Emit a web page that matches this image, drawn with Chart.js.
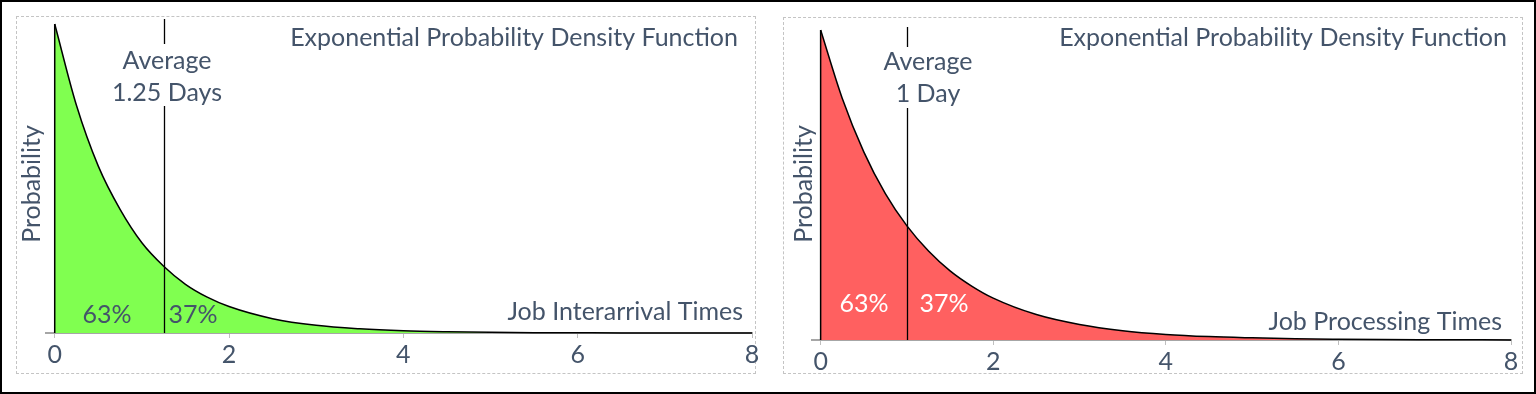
<!DOCTYPE html>
<html>
<head>
<meta charset="utf-8">
<script src="https://cdn.jsdelivr.net/npm/chart.js@4.4.1/dist/chart.umd.min.js"></script>
<style>
  html, body { margin: 0; padding: 0; background: #fff; }
  #frame { position: absolute; left: 0; top: 0; width: 1536px; height: 394px; box-sizing: border-box; border: 2px solid #000; }
  .panel { position: absolute; border: 1px dashed #c4c4c4; box-sizing: border-box; }
  .holder { position: absolute; top: 0; width: 768px; height: 394px; }
</style>
</head>
<body>
<div id="frame"></div>
<div class="panel" style="left:16px;top:16px;width:740px;height:358px;"></div>
<div class="panel" style="left:783px;top:17px;width:740px;height:357px;"></div>
<div class="holder" style="left:0"><canvas id="interarrival"></canvas></div>
<div class="holder" style="left:768px"><canvas id="processing"></canvas></div>
<script>
/* ── data ── */
const xValues = [0, 0.25, 0.5, 0.75, 1, 1.25, 1.5, 1.75, 2, 2.5, 3, 3.5, 4, 4.5, 5, 5.5, 6, 6.5, 7, 8];
// left curve (mean labelled 1.25 days)
const interarrivalDensity = [1.25, 0.92, 0.675, 0.5, 0.365, 0.27, 0.197, 0.145, 0.107, 0.058, 0.031, 0.017, 0.009, 0.005, 0.0027, 0.0014, 0.0008, 0.0004, 0.0002, 0.0001];
// right curve (mean 1 day)
const processingDensity = [1, 0.78, 0.607, 0.472, 0.368, 0.287, 0.223, 0.174, 0.135, 0.082, 0.05, 0.03, 0.018, 0.011, 0.007, 0.004, 0.0025, 0.0015, 0.001, 0.0003];
const xTicks = [0, 2, 4, 6, 8];
const means = [1.25, 1];
const meanLabels = [['Average', '1.25 Days'], ['Average', '1 Day']];
const shareLabels = ['63%', '37%'];
const titleText = 'Exponential Probability Density Function';
const axisTitles = ['Job Interarrival Times', 'Job Processing Times'];
const yTitle = 'Probability';

const TEXT = '#44546A';
const FONT = 'Lato, "Open Sans", sans-serif';

Chart.defaults.font.family = FONT;
Chart.defaults.color = TEXT;

function txt(ctx, s, x, y, align, color) {
  ctx.fillStyle = color || TEXT;
  ctx.textAlign = align || 'center';
  ctx.textBaseline = 'middle';
  ctx.fillText(s, x, y);
}

const decorPlugin = {
  id: 'decor',
  afterDatasetsDraw(chart, args, o) {
    const { ctx, chartArea, scales } = chart;
    const x = scales.x, y = scales.y;
    ctx.save();
    // left edge of the area
    ctx.strokeStyle = '#000';
    ctx.lineWidth = 1.5;
    const x0 = x.getPixelForValue(0);
    ctx.beginPath();
    ctx.moveTo(x0, y.getPixelForValue(o.peak));
    ctx.lineTo(x0, chartArea.bottom);
    ctx.stroke();
    // mean line, broken around its label
    const xm = Math.round(x.getPixelForValue(o.mean)) + 0.5;
    ctx.lineWidth = 1.3;
    ctx.beginPath();
    ctx.moveTo(xm, o.lineTop); ctx.lineTo(xm, o.gapTop);
    ctx.moveTo(xm, o.gapBottom); ctx.lineTo(xm, chartArea.bottom);
    ctx.stroke();

    ctx.font = '25px ' + FONT;
    txt(ctx, titleText, o.titleRight, 38, 'right');
    txt(ctx, o.meanText[0], o.meanX, o.meanY, 'center');
    txt(ctx, o.meanText[1], o.meanX, o.meanY + 32, 'center');
    txt(ctx, shareLabels[0], o.shareX[0], o.shareY, 'center', o.shareColor);
    txt(ctx, shareLabels[1], o.shareX[1], o.shareY, 'center', o.shareColor);
    txt(ctx, o.axisTitle, o.axisTitleRight, o.axisTitleY, 'right');

    ctx.translate(o.yTitleX, 184);
    ctx.rotate(-Math.PI / 2);
    txt(ctx, yTitle, 0, 0, 'center');
    ctx.restore();
  }
};

function makePanel(id, values, fill, pad, decor) {
  return new Chart(document.getElementById(id), {
    type: 'line',
    data: {
      datasets: [{
        data: xValues.map((v, i) => ({ x: v, y: values[i] })),
        borderColor: '#000',
        borderWidth: 1.5,
        backgroundColor: fill,
        fill: 'origin',
        pointRadius: 0,
        cubicInterpolationMode: 'monotone',
        clip: false,
      }]
    },
    options: {
      responsive: true, maintainAspectRatio: false,
      animation: false,
      devicePixelRatio: 1,
      layout: { padding: pad },
      scales: {
        x: {
          type: 'linear', min: -0.1, max: 8,
          afterBuildTicks: a => { a.ticks = xTicks.map(v => ({ value: v })); },
          afterFit: s => { s.height = 40; },
          grid: { drawOnChartArea: false, tickLength: 5, color: '#bfbfbf', lineWidth: 1 },
          border: { color: '#a6a6a6', width: 2 },
          ticks: { padding: 2, font: { size: 25 }, color: TEXT, maxRotation: 0, autoSkip: false }
        },
        y: { display: false, min: 0, max: values[0] }
      },
      plugins: { legend: { display: false }, tooltip: { enabled: false }, decor }
    },
    plugins: [decorPlugin]
  });
}

makePanel('interarrival', interarrivalDensity, '#80FF50',
  { left: 46, right: 16, top: 24, bottom: 21 },
  { peak: interarrivalDensity[0], mean: means[0], lineTop: 19, gapTop: 44, gapBottom: 106,
    meanText: meanLabels[0], meanX: 167, meanY: 61, titleRight: 738,
    shareX: [107, 193], shareY: 315, shareColor: TEXT,
    axisTitle: axisTitles[0], axisTitleRight: 743, axisTitleY: 312, yTitleX: 32 });

makePanel('processing', processingDensity, '#FF6060',
  { left: 44, right: 25, top: 30, bottom: 14 },
  { peak: processingDensity[0], mean: means[1], lineTop: 27, gapTop: 47, gapBottom: 108,
    meanText: meanLabels[1], meanX: 160, meanY: 62, titleRight: 739,
    shareX: [96, 176], shareY: 304, shareColor: '#fff',
    axisTitle: axisTitles[1], axisTitleRight: 734, axisTitleY: 322, yTitleX: 36 });
</script>
</body>
</html>
